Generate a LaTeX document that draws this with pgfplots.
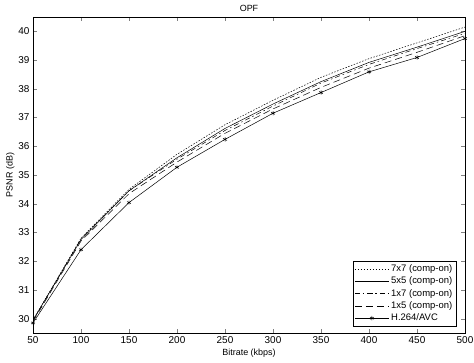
\documentclass[border=0pt]{standalone}
\usepackage{pgfplots}
\pgfplotsset{compat=1.18}
\usepackage{fontspec}
\setmainfont{Liberation Sans}
\begin{document}
\begin{tikzpicture}
\begin{axis}[
  scale only axis, width=432bp, height=316bp,
  at={(0,0)}, anchor=south west,
  xmin=50, xmax=500, ymin=29.5, ymax=40.5,
  xtick={50,100,...,500}, ytick={30,31,...,40},
  tick align=inside, major tick length=4bp,
  tick label style={font=\fontsize{10}{12}\selectfont},
  /pgf/number format/assume math mode=true,
  label style={font=\fontsize{9}{11}\selectfont},
  title style={font=\fontsize{9}{11}\selectfont, yshift=-4bp},
  title={OPF},
  xlabel={Bitrate (kbps)}, ylabel={PSNR (dB)},
  xlabel style={yshift=1bp}, ylabel style={yshift=-3bp},
  axis line style={black, line width=0.5pt},
  legend style={font=\fontsize{9.5}{11}\selectfont, at={(0.979,0.022)}, anchor=south east, draw=black, inner sep=1.5pt, row sep=0pt},
  legend cell align=left,
  legend image code/.code={\draw[mark repeat=2,mark phase=2,#1] plot coordinates {(0cm,0cm) (0.6cm,0cm) (1.2cm,0cm)};},
  every axis plot/.append style={black, line width=0.5pt},
]
\addplot[dash pattern=on 1.5pt off 1.5pt] coordinates {(50,29.95) (100,32.8) (150,34.5) (200,35.72) (250,36.75) (300,37.6) (350,38.4) (400,39.05) (450,39.6) (500,40.15)};
\addlegendentry{7x7 (comp-on)}
\addplot[solid] coordinates {(50,29.95) (100,32.75) (150,34.45) (200,35.6) (250,36.62) (300,37.47) (350,38.25) (400,38.92) (450,39.45) (500,40.0)};
\addlegendentry{5x5 (comp-on)}
\addplot[dash pattern=on 5pt off 3pt on 1.5pt off 3pt] coordinates {(50,29.93) (100,32.78) (150,34.45) (200,35.55) (250,36.55) (300,37.4) (350,38.2) (400,38.85) (450,39.4) (500,39.93)};
\addlegendentry{1x7 (comp-on)}
\addplot[dash pattern=on 7pt off 4pt] coordinates {(50,29.9) (100,32.7) (150,34.35) (200,35.45) (250,36.45) (300,37.3) (350,38.05) (400,38.72) (450,39.27) (500,39.85)};
\addlegendentry{1x5 (comp-on)}
\addplot[solid, mark=asterisk, mark size=2.2pt] coordinates {(50,29.85) (100,32.4) (150,34.04) (200,35.27) (250,36.24) (300,37.15) (350,37.87) (400,38.59) (450,39.09) (500,39.75)};
\addlegendentry{H.264/AVC}
\end{axis}
\pgfresetboundingbox
\path[use as bounding box] (-33bp,-30bp) rectangle (441bp,333bp);
\end{tikzpicture}
\end{document}
